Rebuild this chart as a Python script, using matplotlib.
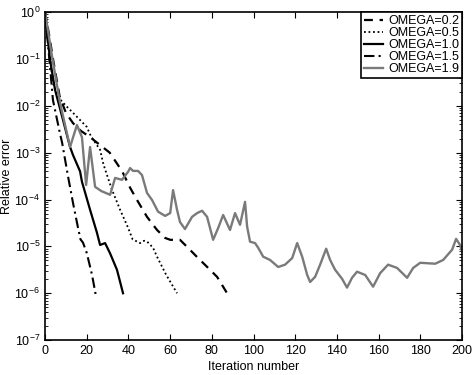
import numpy as np
import matplotlib
matplotlib.use("Agg")
import matplotlib.pyplot as plt
from matplotlib.ticker import LogLocator, MultipleLocator

plt.rcParams['font.family'] = ['Liberation Sans', 'DejaVu Sans']
plt.rcParams['mathtext.fontset'] = 'custom'
plt.rcParams['mathtext.rm'] = 'Liberation Sans'

# Data: iteration number, log10(relative error)
it_02 = [0, 2, 4, 7, 10, 13.4, 17, 21.6, 25, 31, 37, 40.8, 44.1, 48.9, 53.7, 57.6, 60, 64.7, 68.1, 73.4, 78, 82.5, 87.3]
lg_02 = [0, -0.5, -1.05, -1.8, -2.15, -2.37, -2.53, -2.67, -2.79, -3.0, -3.4, -3.75, -4.01, -4.37, -4.65, -4.82, -4.86, -4.86, -5.01, -5.25, -5.45, -5.65, -6.0]

it_05 = [0, 2, 3.8, 6.2, 10, 13.4, 20, 22, 26.4, 28, 32, 36, 39.8, 42, 45.6, 47.5, 49, 51.8, 53.7, 58, 63.3]
lg_05 = [0, -0.8, -1.52, -1.81, -2.0, -2.15, -2.45, -2.65, -2.94, -3.25, -3.78, -4.22, -4.6, -4.85, -4.93, -4.88, -4.90, -5.03, -5.22, -5.6, -6.0]

it_10 = [0, 2.4, 4.8, 8.6, 12, 13.4, 16.8, 17.7, 21.6, 24.9, 26.4, 28.8, 31.2, 34.5, 37.4]
lg_10 = [0, -1.02, -1.66, -2.30, -2.88, -3.05, -3.4, -3.62, -4.22, -4.71, -4.97, -4.93, -5.15, -5.5, -6.0]

it_15 = [0, 2.4, 3.8, 7.2, 8.2, 11, 13.4, 15.8, 17, 18.2, 20, 22.5, 24.5]
lg_15 = [0, -1.17, -1.88, -2.6, -2.79, -3.5, -4.07, -4.6, -4.85, -4.92, -5.14, -5.6, -6.08]

it_19 = [0, 3.4, 7.2, 12, 15.3, 17.7, 19.7, 21.6, 24, 27, 31.2, 33.6, 36.9, 39.8, 40.8, 42.2, 44.6,
         46.5, 48.9, 51.3, 54.2, 57.6, 60, 61.4, 63.3, 64.7, 67.1, 70.5, 72.9, 75.3, 77.7, 80.6,
         83, 85.4, 88.7, 91.1, 93.5, 95.9, 96.9, 98.3, 100.7, 102.2, 104.6, 107.9, 111.8, 115.1,
         118.5, 120.9, 123.3, 125.7, 127.1, 129.5, 131.9, 134.8, 136.7, 139.1, 142.4, 144.8,
         147.2, 149.6, 153.5, 157.3, 160.7, 164.5, 168.8, 173.6, 176.5, 179.9, 187.1, 190.9,
         195.2, 197.1, 199, 200]
lg_19 = [0, -0.96, -1.94, -2.88, -2.41, -2.67, -3.69, -2.88, -3.73, -3.82, -3.90, -3.54, -3.58, -3.41, -3.33, -3.39, -3.39,
         -3.48, -3.86, -4.01, -4.26, -4.35, -4.29, -3.80, -4.22, -4.48, -4.63, -4.37, -4.29, -4.24, -4.37, -4.86,
         -4.61, -4.33, -4.65, -4.29, -4.54, -4.05, -4.58, -4.90, -4.93, -5.03, -5.22, -5.29, -5.44, -5.39,
         -5.25, -4.93, -5.22, -5.61, -5.76, -5.65, -5.39, -5.05, -5.29, -5.50, -5.69, -5.88,
         -5.67, -5.54, -5.61, -5.86, -5.57, -5.39, -5.46, -5.67, -5.46, -5.35, -5.37, -5.29,
         -5.07, -4.84, -4.97, -5.12]

fig = plt.figure(figsize=(4.74, 3.75), dpi=100)
ax = fig.add_axes([0.095, 0.093, 0.88, 0.875])

ax.semilogy(it_02, 10 ** np.array(lg_02), color='black', lw=1.6, ls=(0, (4, 3)), label='OMEGA=0.2')
ax.semilogy(it_05, 10 ** np.array(lg_05), color='black', lw=1.3, ls=(0, (1, 1.5)), label='OMEGA=0.5')
ax.semilogy(it_10, 10 ** np.array(lg_10), color='black', lw=1.6, ls='-', label='OMEGA=1.0')
ax.semilogy(it_15, 10 ** np.array(lg_15), color='black', lw=1.5, ls=(0, (5, 2, 1, 2)), label='OMEGA=1.5')
ax.semilogy(it_19, 10 ** np.array(lg_19), color='#7a7a7a', lw=1.7, ls='-', label='OMEGA=1.9',
            solid_joinstyle='round')

ax.set_xlim(0, 200)
ax.set_ylim(1e-7, 1)
ax.xaxis.set_major_locator(MultipleLocator(20))
ax.yaxis.set_major_locator(LogLocator(base=10, numticks=10))
ax.yaxis.set_minor_locator(LogLocator(base=10, subs=np.arange(2, 10), numticks=10))
ax.tick_params(which='both', direction='in', top=True, right=True, labelsize=9)
ax.tick_params(which='major', length=4)
ax.tick_params(which='minor', length=2)
for s in ax.spines.values():
    s.set_linewidth(1.2)

ax.set_xlabel('Iteration number', fontsize=9, labelpad=3)
ax.set_ylabel('Relative error', fontsize=9, labelpad=1)

leg = ax.legend(loc='upper right', fontsize=9, frameon=True, fancybox=False,
                borderaxespad=0, handlelength=1.5, handletextpad=0.4,
                labelspacing=0.0, borderpad=0.25)
leg.get_frame().set_edgecolor('black')
leg.get_frame().set_linewidth(1.2)
leg.get_frame().set_alpha(1)

fig.savefig('out.png', dpi=100)
